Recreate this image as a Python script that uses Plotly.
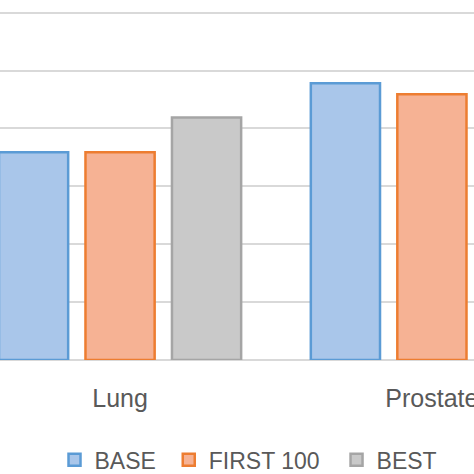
import plotly.graph_objects as go

categories = ["Lung", "Prostate"]
series_names = ["BASE", "FIRST 100", "BEST"]
base_vals = [3.59, 4.78]
first100_vals = [3.59, 4.59]
best_vals = [4.19, 4.75]

fills = ["#A9C6EA", "#F6B294", "#C9C9C9"]
borders = ["#5B9BD5", "#ED7D31", "#A5A5A5"]
legend_ids = ["legend", "legend2", "legend3"]
legend_x = [0.115, 0.356, 0.71]

fig = go.Figure()
for name, vals, fc, lc, lg in zip(series_names, [base_vals, first100_vals, best_vals],
                                  fills, borders, legend_ids):
    fig.add_trace(go.Bar(
        x=categories, y=vals, name=name, legend=lg,
        marker=dict(color=fc, line=dict(color=lc, width=2.5)),
    ))

fig.update_layout(
    width=474, height=474,
    margin=dict(l=0, r=0, t=0, b=114, pad=0, autoexpand=False),
    paper_bgcolor="white", plot_bgcolor="white",
    barmode="group", bargap=0.168, bargroupgap=0.2,
    font=dict(family="Liberation Sans, Arial, sans-serif", color="#595959"),
    xaxis=dict(range=[-0.385, 1.135], showgrid=False, showline=False, automargin=False,
               ticks="", tickfont=dict(size=25), ticklabelstandoff=21),
    yaxis=dict(range=[0, 6.22], dtick=1, showticklabels=False, automargin=False,
               gridcolor="#D9D9D9", gridwidth=2, zeroline=True,
               zerolinecolor="#D9D9D9", zerolinewidth=2),
    showlegend=True,
)

# one legend per series so each entry can sit where the reference puts it
for lg, lx in zip(legend_ids, legend_x):
    fig.update_layout({lg: dict(orientation="h", x=lx, xanchor="left", y=-0.277,
                                yanchor="middle", font=dict(size=23, color="#595959"),
                                bgcolor="rgba(0,0,0,0)")})

# page body has a default 8px margin; drop it so the figure sits at the corner
fig.write_html("out.html", config={"displayModeBar": False},
               post_script="document.body.style.margin='0';")
